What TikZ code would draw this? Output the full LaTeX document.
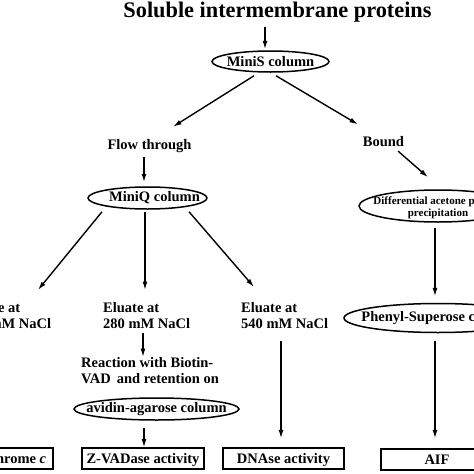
\documentclass[tikz,border=0pt]{standalone}
\usepackage{fontspec}
\setmainfont{Liberation Serif}
\usetikzlibrary{shapes.geometric,arrows.meta,calc}
\begin{document}
\begin{tikzpicture}[x=1pt,y=-1pt,
  txt/.style={font=\fontsize{14.5}{16}\selectfont\bfseries, inner sep=0pt},
  ttl/.style={font=\fontsize{22.3}{24}\selectfont\bfseries, inner sep=0pt},
  small/.style={font=\fontsize{11}{11.5}\selectfont\bfseries, inner sep=0pt, align=center},
  ell/.style={ellipse, draw, line width=1.5pt, inner sep=0pt},
  box/.style={rectangle, draw, line width=1.3pt, inner sep=0pt, minimum height=21pt,
    font=\fontsize{14.5}{16}\selectfont\bfseries, text height=10pt, text depth=1pt},
  arr/.style={-{Latex[length=8.5pt,width=5pt]}, line width=1.4pt}]
\useasboundingbox (0,0) rectangle (474,474);
\fill[white] (0,0) rectangle (474,474);
\clip (0,0) rectangle (474,474);

% title
\node[ttl, anchor=base] (title) at (277.5,17) {Soluble intermembrane proteins};

% first column
\node[ell, minimum width=117pt, minimum height=21pt,
  label={[txt]center:MiniS column}] (minis) at (270.5,61.5) {};
\node[txt, anchor=base] (flow) at (149.5,149) {Flow through};
\node[txt, anchor=base] (bound) at (383.5,146.7) {Bound};

\node[ell, minimum width=119pt, minimum height=22pt,
  label={[txt, xshift=7pt]center:MiniQ column}] (miniq) at (147.5,198) {};

\node[txt, anchor=north west, align=left] (el1) at (-36,302) {Eluate at\\100 mM NaCl};
\node[txt, anchor=north west, align=left] (el2) at (103,302) {Eluate at\\280 mM NaCl};
\node[txt, anchor=north west, align=left] (el3) at (241,302) {Eluate at\\540 mM NaCl};

\node[txt, anchor=north west, align=left] (react) at (81,357) {Reaction with Biotin-\\VAD\, and retention on};
\node[ell, minimum width=165pt, minimum height=22pt,
  label={[txt]center:avidin-agarose column}] (avidin) at (156.5,409) {};

\node[ell, minimum width=158pt, minimum height=32pt,
  label={[small, yshift=-2pt]center:Differential acetone protein\\precipitation}] (diff) at (438,206) {};
\node[ell, minimum width=188pt, minimum height=29pt,
  label={[txt]center:Phenyl-Superose column}] (phenyl) at (438,318) {};

% result boxes
\node[box, minimum width=100pt] (cyt) at (3,458.5) {Cytochrome \textit{c}};
\node[box, minimum width=122pt] (zvad) at (143,458.5) {Z-VADase activity};
\node[box, minimum width=121pt] (dnase) at (283.5,458.5) {DNAse activity};
\node[box, minimum width=112pt] (aif) at (437,459.5) {AIF};

% connectors
\draw[arr] ([xshift=-12.5pt,yshift=-5pt]title.south) -- ([xshift=-5.5pt,yshift=1pt]minis.north);
\draw[arr] ([shift={(-16.5,3)}]minis.south) -- ([shift={(23.5,-12)}]flow.north);
\draw[arr] ([shift={(5.5,3)}]minis.south) -- ([shift={(-25.5,-12)}]bound.north);
\draw[arr] ([shift={(-5.5,5)}]flow.south) -- ([shift={(-3.5,-4)}]miniq.north);
\draw[arr] ([shift={(-45.5,2)}]miniq.south) -- ([shift={(74,-12)}]el1.north west);
\draw[arr] ([shift={(-2.5,2)}]miniq.south) -- ([shift={(42,-12)}]el2.north west);
\draw[arr] ([shift={(41.5,2)}]miniq.south) -- ([shift={(13,-15)}]el3.north west);
\draw[arr] ([shift={(40,4)}]el2.south west) -- ([shift={(62,0)}]react.north west);
\draw[arr] ([shift={(-12.5,7)}]avidin.south) -- ([shift={(1,0)}]zvad.north);
\draw[arr] ([shift={(40,12)}]el3.south west) -- ([shift={(-2.5,-9)}]dnase.north);
\draw[arr] ([shift={(14.5,4)}]bound.south) -- ([shift={(-10,-12)}]diff.north);
\draw[arr] ([shift={(-3,5)}]diff.south) -- ([shift={(-3,-6.5)}]phenyl.north);
\draw[arr] ([shift={(-3,7.5)}]phenyl.south) -- ([shift={(-2,-10)}]aif.north);
\end{tikzpicture}
\end{document}
